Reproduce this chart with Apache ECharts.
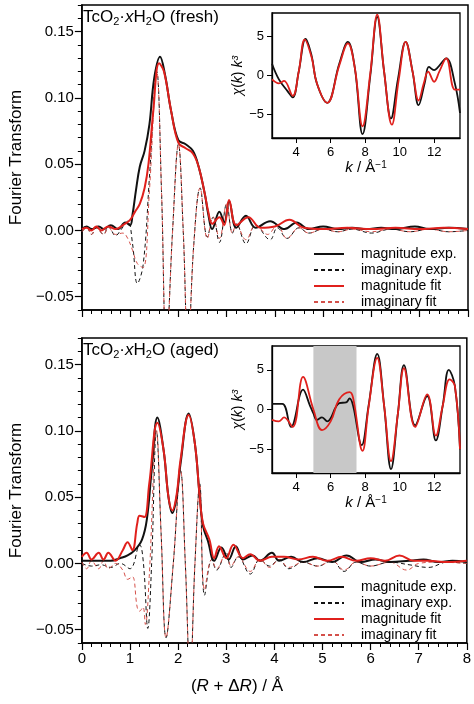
<!DOCTYPE html>
<html><head><meta charset="utf-8">
<script src="https://cdn.jsdelivr.net/npm/echarts@6/dist/echarts.min.js"></script>
<style>html,body{margin:0;padding:0;background:#fff}#c{width:474px;height:704px}</style>
</head><body><div id="c"></div>
<script>
const xTicksR = [0,1,2,3,4,5,6,7,8];
const yTicksFT = [-0.05,0,0.05,0.10,0.15];
const kTicks = [4,6,8,10,12];
const chiTicks = [-5,0,5];
const topMagExp = [[0,0.001],[0.1,0.003],[0.2,0.001],[0.35,0.003],[0.45,0.001],[0.6,0.004],[0.75,0.001],[0.9,0.006],[1.0,0.004],[1.05,0.012],[1.12,0.03],[1.2,0.048],[1.3,0.06],[1.4,0.08],[1.5,0.115],[1.62,0.131],[1.72,0.118],[1.85,0.09],[2.0,0.068],[2.15,0.065],[2.3,0.06],[2.42,0.048],[2.55,0.027],[2.62,0.012],[2.7,0.001],[2.85,0.014],[2.95,0.006],[3.05,0.022],[3.2,0.002],[3.4,0.011],[3.6,0.002],[3.9,0.007],[4.2,0.001],[4.45,0.006],[4.7,0.001],[5.0,0.003],[5.3,0.001],[5.6,0.002],[5.9,0.001],[6.2,0.002],[6.5,0.001],[6.9,0.003],[7.2,0.001],[7.6,0.002],[8,0.001]];
const topMagFit = [[0,0.001],[0.1,0.002],[0.2,0.0],[0.3,0.003],[0.4,0.0],[0.55,0.003],[0.7,0.001],[0.85,0.004],[1.0,0.008],[1.1,0.014],[1.2,0.02],[1.3,0.032],[1.38,0.05],[1.48,0.09],[1.6,0.126],[1.7,0.12],[1.85,0.09],[2.0,0.066],[2.15,0.062],[2.3,0.058],[2.42,0.048],[2.55,0.027],[2.62,0.014],[2.7,0.005],[2.85,0.01],[2.95,0.004],[3.05,0.023],[3.2,0.004],[3.45,0.01],[3.7,0.002],[4.0,0.003],[4.3,0.008],[4.6,0.002],[5.0,0.001],[5.5,0.002],[6,0.001],[6.5,0.002],[7,0.001],[7.5,0.002],[8,0.001]];
const topImExp = [[0,-0.001],[0.1,0.002],[0.2,-0.003],[0.3,0.002],[0.45,-0.003],[0.55,0.003],[0.7,-0.004],[0.8,0.0],[0.95,0.007],[1.05,-0.01],[1.15,-0.04],[1.27,-0.026],[1.4,0.04],[1.55,0.12],[1.65,0.03],[1.75,-0.09],[1.88,0.0],[2.0,0.065],[2.1,0.0],[2.2,-0.09],[2.32,-0.01],[2.45,0.032],[2.6,-0.005],[2.72,0.01],[2.85,-0.009],[3.0,0.02],[3.12,-0.002],[3.2,0.005],[3.4,-0.01],[3.6,0.004],[3.9,-0.007],[4.05,0.002],[4.25,-0.006],[4.5,0.002],[4.7,-0.002],[5.0,0.001],[5.3,-0.001],[5.6,0.001],[6.0,-0.002],[6.4,0.001],[6.8,-0.001],[7.2,0.001],[7.6,-0.001],[8,0.0]];
const topImFit = [[0,-0.001],[0.1,0.002],[0.2,-0.003],[0.3,0.002],[0.45,-0.003],[0.55,0.002],[0.7,-0.003],[0.85,-0.002],[0.95,-0.006],[1.05,-0.015],[1.15,-0.025],[1.27,-0.028],[1.4,0.03],[1.55,0.12],[1.65,0.03],[1.75,-0.09],[1.88,0.0],[2.0,0.065],[2.1,0.0],[2.2,-0.09],[2.32,-0.01],[2.45,0.032],[2.6,-0.006],[2.72,0.01],[2.85,-0.006],[3.0,0.02],[3.12,-0.002],[3.2,0.004],[3.4,-0.007],[3.6,0.004],[3.85,-0.003],[4.05,0.004],[4.25,-0.006],[4.5,0.002],[4.7,-0.002],[5.0,0.001],[5.3,-0.001],[5.6,0.001],[6.0,-0.001],[6.4,0.001],[6.8,-0.001],[7.2,0.001],[7.6,-0.001],[8,0.0]];

const botMagExp = [[0,0.002],[0.3,0.002],[0.6,0.002],[0.8,0.004],[0.95,0.006],[1.1,0.01],[1.25,0.018],[1.35,0.033],[1.45,0.07],[1.57,0.110],[1.7,0.085],[1.8,0.05],[1.88,0.038],[1.97,0.05],[2.05,0.075],[2.22,0.113],[2.35,0.09],[2.45,0.05],[2.52,0.028],[2.62,0.017],[2.75,0.002],[2.9,0.012],[3.05,0.003],[3.2,0.013],[3.35,0.003],[3.55,0.006],[3.7,0.002],[3.95,0.008],[4.1,0.002],[4.35,0.005],[4.6,0.001],[4.9,0.004],[5.2,0.001],[5.5,0.006],[5.8,0.001],[6.1,0.003],[6.4,0.001],[6.8,0.002],[7.1,0.003],[7.4,0.001],[7.7,0.002],[8,0.001]];
const botMagFit = [[0,0.005],[0.1,0.008],[0.2,0.003],[0.35,0.008],[0.45,0.003],[0.55,0.008],[0.7,0.002],[0.85,0.01],[0.95,0.016],[1.05,0.01],[1.15,0.03],[1.2,0.036],[1.3,0.035],[1.4,0.06],[1.57,0.106],[1.7,0.085],[1.8,0.05],[1.88,0.040],[1.97,0.052],[2.05,0.078],[2.22,0.112],[2.35,0.09],[2.45,0.05],[2.52,0.03],[2.65,0.018],[2.75,0.004],[2.85,0.013],[3.0,0.004],[3.15,0.014],[3.35,0.004],[3.5,0.007],[3.7,0.002],[3.95,0.005],[4.2,0.005],[4.5,0.003],[4.8,0.005],[5.1,0.002],[5.4,0.005],[5.7,0.002],[6.0,0.004],[6.3,0.002],[6.6,0.006],[6.9,0.002],[7.2,0.002],[7.6,0.001],[8,0.002]];
const botImExp = [[0,0.0],[0.2,-0.002],[0.4,-0.001],[0.6,-0.003],[0.8,0.0],[1.0,-0.004],[1.2,0.014],[1.28,0.0],[1.37,-0.049],[1.45,0.0],[1.55,0.10],[1.65,0.02],[1.75,-0.056],[1.9,0.0],[2.05,0.07],[2.15,0.0],[2.25,-0.085],[2.35,0.0],[2.45,0.06],[2.55,-0.024],[2.7,0.003],[2.8,-0.005],[3.0,0.008],[3.1,-0.003],[3.25,0.005],[3.5,-0.008],[3.7,0.003],[3.9,-0.002],[4.1,0.003],[4.3,-0.004],[4.6,0.001],[4.9,-0.002],[5.2,0.002],[5.45,-0.006],[5.7,0.001],[6.0,-0.002],[6.4,0.001],[6.8,-0.001],[7.2,-0.003],[7.6,0.001],[8,0.0]];
const botImFit = [[0,0.001],[0.1,-0.004],[0.2,0.002],[0.35,-0.004],[0.45,0.002],[0.55,-0.004],[0.7,0.0],[0.85,-0.005],[0.95,-0.012],[1.05,-0.01],[1.15,-0.033],[1.2,-0.036],[1.27,-0.033],[1.32,-0.046],[1.4,-0.01],[1.55,0.10],[1.65,0.02],[1.75,-0.056],[1.9,0.0],[2.05,0.07],[2.15,0.0],[2.25,-0.085],[2.35,0.0],[2.45,0.06],[2.55,-0.02],[2.7,0.003],[2.8,-0.004],[3.0,0.008],[3.1,-0.002],[3.25,0.005],[3.5,-0.006],[3.7,0.003],[3.9,-0.003],[4.1,0.003],[4.3,-0.003],[4.6,0.001],[4.9,-0.002],[5.2,0.002],[5.45,-0.005],[5.7,0.001],[6.0,-0.002],[6.4,0.001],[6.75,-0.005],[7.0,0.0],[7.4,0.001],[8,0.0]];

const topChiExp = [[2.6,1.5],[3.0,-0.5],[3.5,-2.0],[3.8,-2.8],[4.15,0.5],[4.55,4.7],[4.9,2.5],[5.2,-1.0],[5.8,-3.5],[6.5,1.5],[7.0,4.3],[7.4,1.0],[7.85,-7.5],[8.3,0.0],[8.7,7.5],[9.1,0.5],[9.5,-5.5],[9.9,-0.5],[10.35,4.3],[10.75,0.5],[11.1,-3.8],[11.45,-1.0],[11.7,1.1],[12.0,0.7],[12.2,1.0],[12.7,2.2],[13.2,-1.0],[13.5,-4.8]];
const topChiFit = [[2.6,-0.5],[3.0,-1.0],[3.3,-0.7],[3.8,-2.6],[4.15,0.5],[4.5,4.6],[4.9,2.3],[5.2,-1.0],[5.8,-3.5],[6.5,1.3],[7.0,4.1],[7.4,1.0],[7.85,-6.5],[8.3,0.3],[8.7,7.8],[9.1,0.5],[9.55,-6.3],[9.95,-0.5],[10.35,4.3],[10.75,0.5],[11.1,-3.2],[11.4,-1.0],[11.65,0.5],[12.0,-0.8],[12.3,0.5],[12.7,2.2],[13.2,-1.8],[13.5,-1.8]];
const botChiExp = [[2.6,0.7],[3.2,0.7],[3.7,-2.2],[4.4,2.5],[4.8,0.5],[5.0,-0.5],[5.2,-1.3],[5.5,-1.0],[5.8,-1.5],[6.5,0.8],[6.9,0.9],[7.1,1.4],[7.3,0.5],[7.8,-4.5],[8.2,0.5],[8.7,7.0],[9.1,0.5],[9.5,-7.5],[9.9,-0.5],[10.25,5.6],[10.9,-2.0],[11.6,1.7],[12.1,-3.9],[12.5,0.5],[12.85,5.0],[13.2,3.0],[13.5,-5.0]];
const botChiFit = [[2.6,-1.3],[3.0,-1.5],[3.3,-1.0],[3.8,-2.2],[4.4,4.1],[5.0,0.0],[5.5,-2.6],[6.0,-1.5],[6.5,1.3],[7.1,2.2],[7.3,1.5],[7.85,-5.2],[8.2,0.3],[8.7,6.5],[9.1,0.5],[9.5,-6.5],[9.9,-0.5],[10.25,5.2],[10.9,-2.2],[11.6,1.9],[12.1,-3.3],[12.5,0.5],[12.9,3.8],[13.2,3.0],[13.5,-5.0]];
const shadeRange = [5, 7.5];

const FONT = 'Liberation Sans';
const BLACK = '#111', RED = '#e0201c', RED2 = '#d4504a';
const names = ['magnitude exp.','imaginary exp.','magnitude fit','imaginary fit'];

function mainX(i, labels){ return {gridIndex:i,type:'value',min:0,max:8,interval:1,
  axisLine:{onZero:false,lineStyle:{color:'#000',width:1.5}},axisTick:{inside:false,length:7,lineStyle:{color:'#000',width:1.2}},
  minorTick:{show:true,splitNumber:5,length:4,lineStyle:{color:'#000'}},splitLine:{show:false},
  axisLabel:{show:labels,color:'#000',fontSize:15,fontFamily:FONT,margin:8}}; }
function mainY(i){ return {gridIndex:i,type:'value',min:-0.06,max:0.17,
  axisLine:{show:true,onZero:false,lineStyle:{color:'#000',width:1.5}},
  axisTick:{show:true,length:7,lineStyle:{color:'#000',width:1.2},customValues:yTicksFT},
  minorTick:{show:false},splitLine:{show:false},
  name:'Fourier Transform',nameLocation:'middle',nameGap:50,nameRotate:90,nameTextStyle:{color:'#000',fontSize:17,fontFamily:FONT},
  axisLabel:{color:'#000',fontSize:15,fontFamily:FONT,customValues:yTicksFT,formatter:v=>(v<-1e-9?'\u2212':'')+Math.abs(v).toFixed(2)}}; }
function minorY(i){ const v=[]; for(let k=-6;k<=17;k++) if(k%5!==0) v.push(k/100); return {gridIndex:i,type:'value',min:-0.06,max:0.17,position:'left',
  axisLine:{show:false},axisTick:{show:true,length:4,lineStyle:{color:'#000'},customValues:v},axisLabel:{show:false},splitLine:{show:false}}; }
function insX(i){ return {gridIndex:i,type:'value',min:2.6,max:13.5,
  axisLine:{onZero:false,lineStyle:{color:'#000',width:1.3}},axisTick:{length:5,lineStyle:{color:'#000'},customValues:kTicks},
  minorTick:{show:false},splitLine:{show:false},
  axisLabel:{color:'#000',fontSize:13,fontFamily:FONT,customValues:kTicks},
  name:'{i|k} / Å{s|\u22121}',nameLocation:'middle',nameGap:22,
  nameTextStyle:{color:'#000',fontSize:15,fontFamily:FONT,rich:{i:{fontStyle:'italic',fontSize:15,fontFamily:FONT},s:{fontSize:10,verticalAlign:'top',padding:[0,0,6,0],fontFamily:FONT}}}}; }
function insY(i){ return {gridIndex:i,type:'value',min:-8,max:8,
  axisLine:{show:true,onZero:false,lineStyle:{color:'#000',width:1.3}},axisTick:{show:true,length:5,lineStyle:{color:'#000'},customValues:chiTicks},
  splitLine:{show:false},axisLabel:{color:'#000',fontSize:13,fontFamily:FONT,customValues:chiTicks,formatter:v=>v<0?'\u2212'+(-v):''+v},
  name:'{i|\u03c7}({i|k}) {i|k}{s|3}',nameLocation:'middle',nameGap:24,nameRotate:90,
  nameTextStyle:{color:'#000',fontSize:14,fontFamily:FONT,rich:{i:{fontStyle:'italic',fontSize:14,fontFamily:FONT},s:{fontSize:9,verticalAlign:'top',fontFamily:FONT,fontStyle:'italic'}}}}; }

function ln(name, data, xi, yi, color, w, dash, z){ return {name, type:'line', xAxisIndex:xi, yAxisIndex:yi, data, smooth:0.4, symbol:'none',
  lineStyle:{color, width:w, type:dash?[4,3]:'solid'}, itemStyle:{color}, z:z||2, silent:true}; }

const series = [];
[[0,topMagExp,topImExp,topMagFit,topImFit],[1,botMagExp,botImExp,botMagFit,botImFit]].forEach(([g,me,ie,mf,iff])=>{
  series.push(ln(names[1], ie, g, g, BLACK, 1, true, 2));
  series.push(ln(names[3], iff, g, g, RED2, 1, true, 3));
  series.push(ln(names[0], me, g, g, BLACK, 2, false, 4));
  series.push(ln(names[2], mf, g, g, RED, 2, false, 5));
});
series.push({type:'line',xAxisIndex:3,yAxisIndex:3,data:[],silent:true,markArea:{silent:true,itemStyle:{color:'#c8c8c8'},data:[[{xAxis:shadeRange[0]},{xAxis:shadeRange[1]}]]},z:1});
series.push(ln('chiA', topChiExp, 2, 2, BLACK, 1.8, false, 3));
series.push(ln('chiB', topChiFit, 2, 2, RED, 1.8, false, 4));
series.push(ln('chiC', botChiExp, 3, 3, BLACK, 1.8, false, 3));
series.push(ln('chiD', botChiFit, 3, 3, RED, 1.8, false, 4));

function legend(top){ return {top, left:308, orient:'vertical', itemGap:2, itemWidth:30, itemHeight:12, selectedMode:false,
  itemStyle:{opacity:0}, data:names, textStyle:{color:'#000',fontSize:14,fontFamily:FONT,padding:[0,0,0,12]}}; }

function title(txt, top){ return {type:'text', left:83, top, style:{text:'TcO{s|2}\u00b7{i|x}H{s|2}O '+txt, fill:'#000', font:'17px '+FONT,
  rich:{s:{fontSize:11,verticalAlign:'bottom',fontFamily:FONT,padding:[8,0,0,0]},i:{fontStyle:'italic',fontSize:17,fontFamily:FONT}}}}; }

const chart = echarts.init(document.getElementById('c'), null, {renderer:'canvas'});
chart.setOption({
  animation:false, backgroundColor:'#fff',
  grid:[
    {left:73,top:5,width:395,height:305,show:true,borderColor:'#000',borderWidth:1.5,backgroundColor:'transparent'},
    {left:73,top:338,width:395,height:305,show:true,borderColor:'#000',borderWidth:1.5,backgroundColor:'transparent'},
    {left:272,top:13,width:188,height:125,show:true,borderColor:'#000',borderWidth:1.3,backgroundColor:'#fff'},
    {left:272,top:346,width:188,height:127,show:true,borderColor:'#000',borderWidth:1.3,backgroundColor:'#fff'}
  ],
  xAxis:[mainX(0,false),mainX(1,true),insX(2),insX(3)],
  yAxis:[mainY(0),mainY(1),insY(2),insY(3),minorY(0),minorY(1)],
  legend:[legend(242),legend(575)],
  series,
  graphic:[title('(fresh)',9), title('(aged)',342),
    {type:'text',left:'center',top:678,style:{text:'({i|R} + \u0394{i|R}) / Å',fill:'#000',font:'17px '+FONT,
      rich:{i:{fontStyle:'italic',fontSize:17,fontFamily:FONT}}}}]
});
</script></body></html>
